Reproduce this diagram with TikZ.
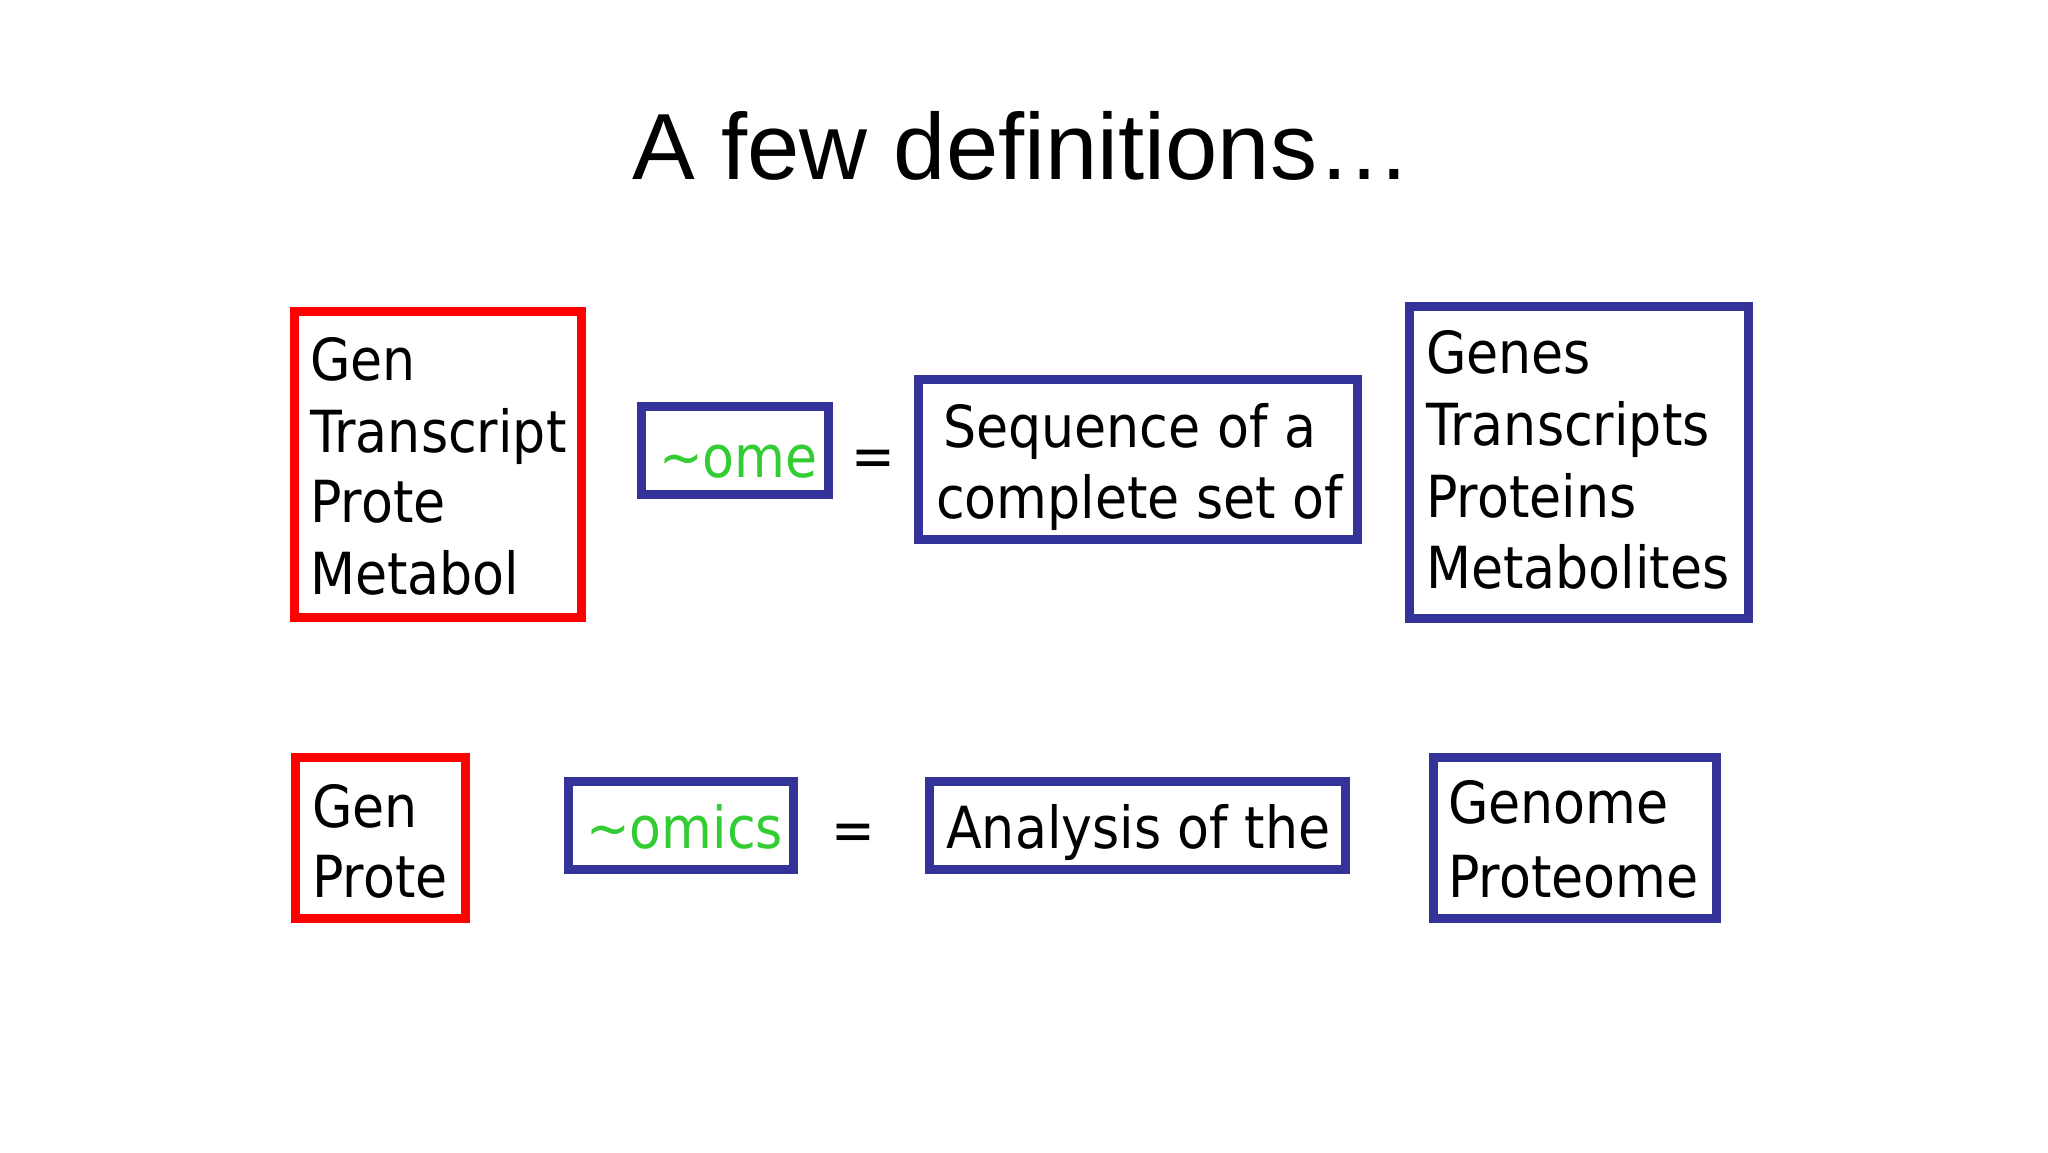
\documentclass[tikz,border=0pt]{standalone}
\usepackage{fontspec}
\setmainfont[FakeStretch=0.9]{DejaVu Sans}
\newfontfamily\titlefont{Liberation Sans}
\definecolor{boxred}{HTML}{FF0000}
\definecolor{boxblue}{HTML}{333399}
\definecolor{omegreen}{HTML}{33CC33}
\begin{document}
\begin{tikzpicture}[x=1pt,y=-1pt,
  redbox/.style={draw=boxred,line width=9pt},
  bluebox/.style={draw=boxblue,line width=9pt},
  txt/.style={inner sep=0pt,anchor=base west,font=\fontsize{58}{70}\selectfont},
  gtxt/.style={txt,text=omegreen},
  eq/.style={inner sep=0pt,anchor=base,font=\fontsize{58}{70}\selectfont}]
\useasboundingbox[fill=white] (0,0) rectangle (2048,1152);
\node[inner sep=0pt,anchor=base,font=\titlefont\fontsize{94}{110}\selectfont] (title) at (1022,179) {A few definitions\ldots};
% row 1
\draw[redbox] (294.5,311.5) rectangle (581.5,617.5);
\node[txt] (r1a) at (310,380) {Gen};
\node[txt] (r1b) at (310,452) {Transcript};
\node[txt] (r1c) at (310,522) {Prote};
\node[txt] (r1d) at (310,594) {Metabol};
\draw[bluebox] (641.5,406.5) rectangle (828.5,494.5);
\node[gtxt] (ome) at (659,477) {\char"007E ome};
\node[eq] (eq1) at (873,476) {=};
\draw[bluebox] (918.5,379.5) rectangle (1357.5,539.5);
\node[txt] (s1) at (943,447) {Sequence of a};
\node[txt] (s2) at (936,518) {complete set of};
\draw[bluebox] (1409.5,306.5) rectangle (1748.5,618.5);
\node[txt] (g1) at (1426,373) {Genes};
\node[txt] (g2) at (1426,445) {Transcripts};
\node[txt] (g3) at (1426,517) {Proteins};
\node[txt] (g4) at (1426,588) {Metabolites};
% row 2
\draw[redbox] (295.5,757.5) rectangle (465.5,918.5);
\node[txt] (r2a) at (312,827) {Gen};
\node[txt] (r2b) at (312,897) {Prote};
\draw[bluebox] (568.5,781.5) rectangle (793.5,869.5);
\node[gtxt] (omics) at (586,848) {\char"007E omics};
\node[eq] (eq2) at (853,850) {=};
\draw[bluebox] (929.5,781.5) rectangle (1345.5,869.5);
\node[txt] (an) at (946,848) {Analysis of the};
\draw[bluebox] (1433.5,757.5) rectangle (1716.5,918.5);
\node[txt] (p1) at (1448,823) {Genome};
\node[txt] (p2) at (1448,897) {Proteome};
\end{tikzpicture}
\end{document}
